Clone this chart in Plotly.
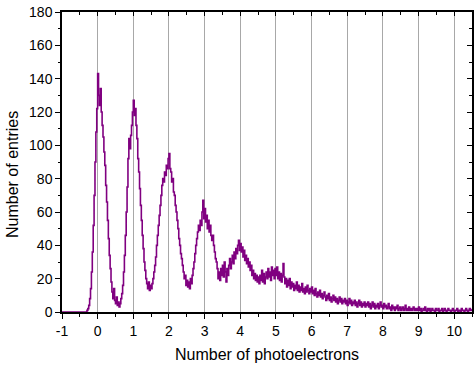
import plotly.graph_objects as go

bin_start = -1.0
bin_width = 0.025
counts = [
    # -1.000 .. -0.325
    0, 0, 0, 0, 0, 0, 0, 0, 0, 0, 0, 0, 0, 0,
    0, 0, 0, 0, 0, 0, 0, 0, 0, 0, 0, 0, 0, 0,
    # -0.300 .. -0.025
    1, 2, 4, 8, 14, 24, 36, 52, 70, 90, 108, 122,
    # 0.000 .. 0.975
    143, 130, 124, 134, 120, 112, 105, 96, 88, 76,
    66, 55, 44, 34, 26, 18, 12, 8, 14, 7,
    5, 9, 4, 6, 3, 5, 8, 11, 16, 24,
    34, 46, 60, 75, 92, 104, 98, 106, 112, 120,
    # 1.000 .. 1.975
    127, 118, 122, 112, 104, 92, 84, 74, 64, 55,
    46, 38, 30, 25, 20, 17, 14, 18, 13, 16,
    14, 17, 20, 24, 28, 33, 40, 46, 52, 58,
    64, 70, 76, 80, 78, 84, 82, 88, 86, 92,
    # 2.000 .. 2.975
    95, 86, 84, 78, 80, 72, 70, 64, 60, 55,
    50, 44, 40, 35, 32, 28, 24, 20, 22, 16,
    19, 15, 18, 14, 20, 17, 22, 26, 30, 35,
    40, 44, 48, 52, 49, 55, 52, 60, 67, 56,
    # 3.000 .. 3.975
    62, 54, 58, 50, 55, 48, 52, 46, 43, 46,
    40, 36, 32, 30, 26, 20, 24, 19, 26, 22,
    28, 21, 30, 24, 18, 26, 22, 28, 32, 26,
    30, 34, 29, 36, 32, 38, 35, 40, 43, 37,
    # 4.000 .. 4.975
    41, 36, 39, 33, 37, 31, 34, 29, 32, 27,
    30, 25, 28, 22, 25, 20, 23, 19, 22, 18,
    21, 17, 22, 19, 25, 18, 23, 17, 21, 24,
    20, 26, 21, 24, 19, 27, 22, 25, 20, 26,
    # 5.000 .. 5.975
    22, 27, 20, 24, 19, 23, 18, 22, 29, 21,
    17, 20, 15, 19, 16, 20, 14, 18, 15, 17,
    13, 16, 14, 18, 13, 16, 12, 15, 13, 17,
    12, 14, 11, 15, 12, 16, 13, 11, 14, 12,
    # 6.000 .. 6.975
    15, 11, 13, 10, 14, 11, 9, 12, 10, 13,
    9, 11, 8, 10, 12, 9, 7, 10, 8, 11,
    7, 9, 6, 8, 10, 7, 9, 6, 8, 5,
    7, 9, 6, 8, 5, 7, 6, 8, 5, 7,
    # 7.000 .. 7.975
    4, 6, 8, 5, 7, 4, 6, 5, 7, 4,
    6, 3, 5, 7, 4, 6, 3, 5, 4, 6,
    3, 5, 4, 6, 3, 5, 2, 4, 6, 3,
    5, 2, 4, 3, 5, 2, 4, 6, 3, 4,
    # 8.000 .. 8.975
    2, 5, 3, 4, 2, 3, 5, 2, 3, 1,
    4, 2, 3, 1, 3, 2, 4, 1, 2, 3,
    1, 2, 3, 1, 2, 4, 1, 2, 1, 3,
    1, 2, 1, 2, 3, 1, 2, 1, 2, 1,
    # 9.000 .. 9.975
    3, 1, 2, 0, 1, 2, 1, 3, 1, 0,
    2, 1, 2, 0, 1, 2, 1, 1, 0, 2,
    1, 1, 2, 0, 1, 1, 2, 0, 1, 2,
    1, 0, 1, 2, 1, 1, 0, 1, 2, 1,
    # 10.000 .. 10.500
    0, 1, 1, 2, 0, 1, 1, 0, 2, 1,
    1, 0, 1, 2, 1, 0, 1, 2, 1, 1, 2,
]
x_vals = [bin_start + bin_width * i for i in range(len(counts))]

x_ticks = list(range(-1, 11))
y_ticks = list(range(0, 181, 20))

font = dict(family="Liberation Sans, Arial, sans-serif", size=14, color="black")

fig = go.Figure()
fig.add_trace(go.Scatter(x=x_vals, y=counts, mode="lines", line_shape="hv",
                         line=dict(color="#800080", width=1.6),
                         showlegend=False, hoverinfo="skip"))
fig.add_trace(go.Scatter(x=[None], y=[None], xaxis="x2", yaxis="y2",
                         mode="lines", showlegend=False, hoverinfo="skip"))

fig.update_layout(
    width=474, height=366,
    margin=dict(l=62, r=2, t=12, b=54),
    plot_bgcolor="white", paper_bgcolor="white",
    font=font,
    xaxis=dict(range=[-1, 10.5], tickvals=x_ticks, ticktext=[str(v) for v in x_ticks],
               ticks="outside", ticklen=5, tickwidth=1, tickcolor="black",
               showline=True, linecolor="black", linewidth=1.5, mirror=True,
               showgrid=True, gridcolor="#a8a8a8", gridwidth=1, zeroline=False,
               automargin=False,
               minor=dict(dtick=0.5, ticks="outside", ticklen=3, tickcolor="black", showgrid=False)),
    yaxis=dict(range=[0, 180], tickvals=y_ticks,
               ticks="outside", ticklen=5, tickwidth=1, tickcolor="black",
               showline=True, linecolor="black", linewidth=1.5, mirror=True,
               showgrid=False, zeroline=False, automargin=False,
               minor=dict(dtick=10, ticks="outside", ticklen=2, tickcolor="black")),
    xaxis2=dict(overlaying="x", matches="x", side="top", range=[-1, 10.5],
                tickvals=x_ticks, showticklabels=False, ticks="inside", ticklen=4,
                tickcolor="black", showgrid=False, zeroline=False, automargin=False,
                minor=dict(dtick=0.5, ticks="inside", ticklen=3, tickcolor="black")),
    yaxis2=dict(overlaying="y", matches="y", side="right", range=[0, 180],
                tickvals=y_ticks, showticklabels=False, ticks="inside", ticklen=5,
                tickcolor="black", showgrid=False, zeroline=False, automargin=False,
                minor=dict(dtick=10, ticks="inside", ticklen=3, tickcolor="black")),
    annotations=[
        dict(text="Number of photoelectrons", xref="paper", yref="paper",
             x=0.5, y=0, yshift=-42, xanchor="center", yanchor="middle",
             showarrow=False, font=dict(size=16)),
        dict(text="Number of entries", xref="paper", yref="paper",
             x=0, y=0.5, xshift=-50, yshift=-13, textangle=-90,
             xanchor="center", yanchor="middle",
             showarrow=False, font=dict(size=16)),
    ],
)

fig.write_html("out.html",
               config={"displayModeBar": False},
               post_script="document.body.style.margin='0';document.body.style.overflow='hidden';")
